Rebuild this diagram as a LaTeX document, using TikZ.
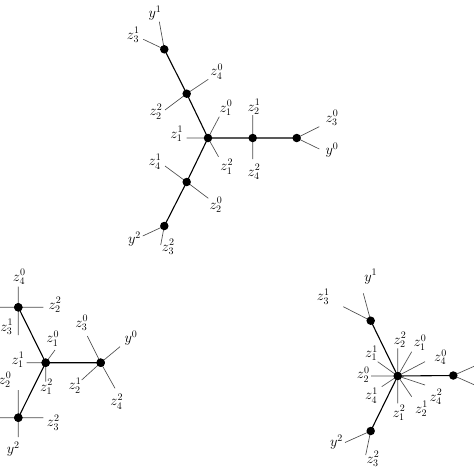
\documentclass[tikz,border=0pt]{standalone}
\begin{document}
\begin{tikzpicture}[x=1pt,y=-1pt,
  dot/.style={circle,fill=black,inner sep=0pt,minimum size=8.5pt},
  edge/.style={line width=1.1pt,black},
  leaf/.style={line width=0.65pt,black!70},
  lab/.style={inner sep=0pt,font=\fontsize{14}{16}\selectfont}]
\useasboundingbox (0,0) rectangle (474,474);
\clip (0,0) rectangle (474,474);
% ---------------- top tree ----------------
\coordinate (tC) at (208,138);
\coordinate (tR1) at (252.7,138);
\coordinate (tR2) at (296.7,138);
\coordinate (tU1) at (186.7,93.7);
\coordinate (tU2) at (164.3,49.3);
\coordinate (tL1) at (186.7,182);
\coordinate (tL2) at (164.3,226);
% leaves
\coordinate (ta1) at (186.7,138);   \node[lab] (tla1) at (176.7,134) {$z_1^1$};
\coordinate (ta2) at (219.3,116.7); \node[lab] (tla2) at (226,108) {$z_1^0$};
\coordinate (ta3) at (218.5,156.7); \node[lab] (tla3) at (226.7,166.7) {$z_1^2$};
\coordinate (ta4) at (252.7,115);   \node[lab] (tla4) at (254,107) {$z_2^1$};
\coordinate (ta5) at (252.7,159);   \node[lab] (tla5) at (254,172) {$z_4^2$};
\coordinate (ta6) at (319.3,126.7); \node[lab] (tla6) at (332,118) {$z_3^0$};
\coordinate (ta7) at (319.3,149);   \node[lab] (tla7) at (332,150) {$y^0$};
\coordinate (ta8) at (208.3,79.3);  \node[lab] (tla8) at (216.7,71.7) {$z_4^0$};
\coordinate (ta9) at (165,110);     \node[lab] (tla9) at (156,111.7) {$z_2^2$};
\coordinate (ta10) at (159.3,21.7); \node[lab] (tla10) at (155,13.3) {$y^1$};
\coordinate (ta11) at (143.3,39.3); \node[lab] (tla11) at (133.3,35) {$z_3^1$};
\coordinate (ta12) at (165,166);    \node[lab] (tla12) at (155,161.7) {$z_4^1$};
\coordinate (ta13) at (208.3,198.3);\node[lab] (tla13) at (216,205) {$z_2^0$};
\coordinate (ta14) at (142.7,236);  \node[lab] (tla14) at (134.5,239) {$y^2$};
\coordinate (ta15) at (160.7,245);  \node[lab] (tla15) at (168.3,247) {$z_3^2$};
\draw[leaf] (tC)--(ta1) (tC)--(ta2) (tC)--(ta3) (tR1)--(ta4) (tR1)--(ta5)
  (tR2)--(ta6) (tR2)--(ta7) (tU1)--(ta8) (tU1)--(ta9) (tU2)--(ta10) (tU2)--(ta11)
  (tL1)--(ta12) (tL1)--(ta13) (tL2)--(ta14) (tL2)--(ta15);
\draw[edge] (tU2)--(tU1)--(tC)--(tL1)--(tL2) (tC)--(tR1)--(tR2);
\foreach \n in {tC,tR1,tR2,tU1,tU2,tL1,tL2} \node[dot] at (\n) {};
% ---------------- bottom-left tree ----------------
\coordinate (lC) at (45.7,362.7);
\coordinate (lR) at (100.7,362.7);
\coordinate (lU) at (18.3,307.3);
\coordinate (lL) at (18.3,417.7);
\coordinate (la1) at (26.7,362.7);  \node[lab] (lla1) at (18,360) {$z_1^1$};
\coordinate (la2) at (55,350);      \node[lab] (lla2) at (52.7,338.5) {$z_1^0$};
\coordinate (la3) at (45.7,381.7);  \node[lab] (lla3) at (46.5,387) {$z_1^2$};
\coordinate (la4) at (18.3,286.7);  \node[lab] (lla4) at (19.3,277) {$z_4^0$};
\coordinate (la5) at (43.3,307.3);  \node[lab] (lla5) at (55,305) {$z_2^2$};
\coordinate (la6) at (-5,307.3);
\coordinate (la7) at (18.3,335);    \node[lab] (lla7) at (6.7,327) {$z_3^1$};
\coordinate (la8) at (18.3,390);    \node[lab] (lla8) at (5,380) {$z_2^0$};
\coordinate (la9) at (43.3,417.7);  \node[lab] (lla9) at (53.3,422.5) {$z_3^2$};
\coordinate (la10) at (-5,417.7);
\coordinate (la11) at (18.3,437);   \node[lab] (lla11) at (13.3,449) {$y^2$};
\coordinate (la12) at (87.3,336);   \node[lab] (lla12) at (81.7,323) {$z_3^0$};
\coordinate (la13) at (120,346.7);  \node[lab] (lla13) at (131,338) {$y^0$};
\coordinate (la14) at (81.7,380);   \node[lab] (lla14) at (75,385.5) {$z_2^1$};
\coordinate (la15) at (115,388.3);  \node[lab] (lla15) at (116.7,401.7) {$z_4^2$};
\draw[leaf] (lC)--(la1) (lC)--(la2) (lC)--(la3) (lU)--(la4) (lU)--(la5) (lU)--(la6)
  (lU)--(la7) (lL)--(la8) (lL)--(la9) (lL)--(la10) (lL)--(la11)
  (lR)--(la12) (lR)--(la13) (lR)--(la14) (lR)--(la15);
\draw[edge] (lU)--(lC)--(lL) (lC)--(lR);
\foreach \n in {lC,lR,lU,lL} \node[dot] at (\n) {};
% ---------------- bottom-right tree ----------------
\coordinate (rC) at (397.7,376);
\coordinate (rR) at (453.3,375.5);
\coordinate (rU) at (370.7,320.7);
\coordinate (rL) at (370.7,431);
\coordinate (ra1) at (397.7,348.3); \node[lab] (rla1) at (400,340) {$z_2^2$};
\coordinate (ra2) at (411.7,351.7); \node[lab] (rla2) at (420,342.7) {$z_1^0$};
\coordinate (ra3) at (425,361.7);   \node[lab] (rla3) at (440.5,357.3) {$z_4^0$};
\coordinate (ra4) at (377.7,361.7); \node[lab] (rla4) at (371.5,353.3) {$z_1^1$};
\coordinate (ra5) at (371,376);     \node[lab] (rla5) at (363.3,374.5) {$z_2^0$};
\coordinate (ra6) at (381.7,386.7); \node[lab] (rla6) at (371.5,395.5) {$z_4^1$};
\coordinate (ra7) at (397.7,403.3); \node[lab] (rla7) at (399,413) {$z_1^2$};
\coordinate (ra8) at (411.7,396.7); \node[lab] (rla8) at (421.5,409) {$z_2^1$};
\coordinate (ra9) at (425,385);     \node[lab] (rla9) at (436,397) {$z_4^2$};
\coordinate (ra10) at (477,365);
\coordinate (ra11) at (477,386);
\coordinate (ra12) at (363.3,293.3); \node[lab] (rla12) at (370.7,276.7) {$y^1$};
\coordinate (ra13) at (343.3,306.7); \node[lab] (rla13) at (323.3,296.7) {$z_3^1$};
\coordinate (ra14) at (345,442.5);   \node[lab] (rla14) at (336.5,442) {$y^2$};
\coordinate (ra15) at (365.7,455);   \node[lab] (rla15) at (373,459) {$z_3^2$};
\draw[leaf] (rC)--(ra1) (rC)--(ra2) (rC)--(ra3) (rC)--(ra4) (rC)--(ra5) (rC)--(ra6)
  (rC)--(ra7) (rC)--(ra8) (rC)--(ra9) (rR)--(ra10) (rR)--(ra11)
  (rU)--(ra12) (rU)--(ra13) (rL)--(ra14) (rL)--(ra15);
\draw[edge] (rU)--(rC)--(rL) (rC)--(rR);
\foreach \n in {lC,lR,lU,lL} \node[dot] at (\n) {};
\foreach \n in {rC,rR,rU,rL} \node[dot] at (\n) {};
\end{tikzpicture}
\end{document}
